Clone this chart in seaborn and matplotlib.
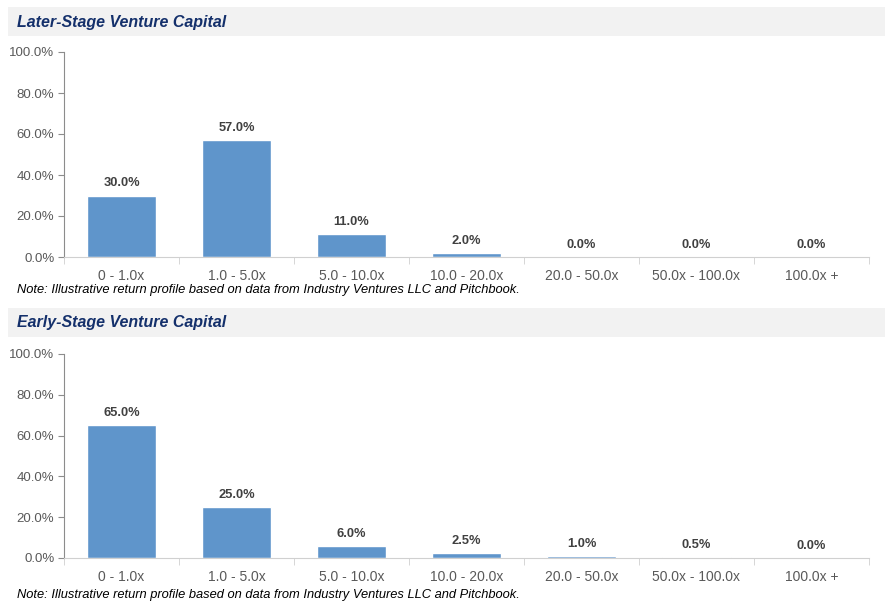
import matplotlib
matplotlib.use("Agg")
import matplotlib.pyplot as plt
import matplotlib.patches as mpatches
import pandas as pd
import seaborn as sns

sns.set_style("white")
plt.rcParams["font.family"] = ["Liberation Sans", "DejaVu Sans"]

categories = ["0 - 1.0x", "1.0 - 5.0x", "5.0 - 10.0x", "10.0 - 20.0x",
              "20.0 - 50.0x", "50.0x - 100.0x", "100.0x +"]
later_stage = [30.0, 57.0, 11.0, 2.0, 0.0, 0.0, 0.0]
early_stage = [65.0, 25.0, 6.0, 2.5, 1.0, 0.5, 0.0]
titles = ["Later-Stage Venture Capital", "Early-Stage Venture Capital"]
note = "Note: Illustrative return profile based on data from Industry Ventures LLC and Pitchbook."
yticks = [0, 20, 40, 60, 80, 100]

W, H = 893, 613
fig = plt.figure(figsize=(W / 100, H / 100), dpi=100)

bar_color = "#5f95cb"
navy = "#14306b"


def panel(values, title, band_top, ax_top, ax_bottom, note_y):
    # grey header band with title
    fig.patches.append(mpatches.Rectangle(
        (8 / W, 1 - (band_top + 29) / H), (885 - 8) / W, 29 / H,
        transform=fig.transFigure, facecolor="#f2f2f2", edgecolor="none", zorder=0))
    fig.text(17 / W, 1 - (band_top + 15) / H, title, fontsize=11.5, fontweight="bold",
             fontstyle="italic", color=navy, va="center", ha="left")

    ax = fig.add_axes([64 / W, 1 - ax_bottom / H, (869 - 64) / W, (ax_bottom - ax_top) / H])
    df = pd.DataFrame({"cat": categories, "val": values})
    sns.barplot(data=df, x="cat", y="val", color=bar_color, saturation=1,
                width=0.6, ax=ax)
    ax.set_xlim(-0.5, len(categories) - 0.5)
    ax.set_ylim(0, 100)
    ax.set_yticks(yticks)
    ax.set_yticklabels([f"{v:.1f}%" for v in yticks])
    ax.set_xlabel("")
    ax.set_ylabel("")
    for s in ["top", "right"]:
        ax.spines[s].set_visible(False)
    ax.spines["left"].set_color("#8c8c8c")
    ax.spines["bottom"].set_color("#d0d0d0")
    ax.tick_params(axis="y", which="major", left=True, length=4, color="#8c8c8c",
                   labelsize=9.5, labelcolor="#595959", pad=3)
    ax.tick_params(axis="x", which="major", bottom=False, labelsize=10,
                   labelcolor="#595959", pad=5)
    ax.set_xticks([i + 0.5 for i in range(-1, len(categories))], minor=True)
    ax.tick_params(axis="x", which="minor", bottom=True, length=5, color="#d0d0d0")
    for i, v in enumerate(values):
        ax.annotate(f"{v:.1f}%", (i, v), xytext=(0, 4.5), textcoords="offset points",
                    ha="center", va="bottom", fontsize=9.3, fontweight="bold",
                    color="#404040")
    fig.text(17 / W, 1 - note_y / H, note, fontsize=9.3, fontstyle="italic",
             color="black", va="center", ha="left")


panel(later_stage, titles[0], 7, 52, 257, 290)
panel(early_stage, titles[1], 308, 354, 558, 595)

fig.savefig("out.png", dpi=100)
